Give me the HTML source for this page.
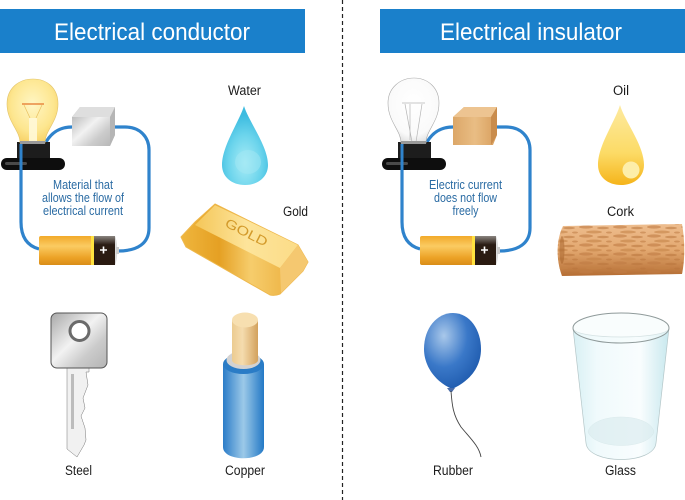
<!DOCTYPE html>
<html><head><meta charset="utf-8"><style>
html,body{margin:0;padding:0;background:#fff}
svg{display:block}
text{font-family:"Liberation Sans",sans-serif}
.l{font-size:13.5px;fill:#1c1c1c;text-anchor:middle}
.b{font-size:13px;fill:#2a6ba3;text-anchor:middle}
.h{font-size:24px;fill:#fff;text-anchor:middle}
</style></head><body>
<svg width="685" height="500" viewBox="0 0 685 500" xmlns="http://www.w3.org/2000/svg">
<defs>
<radialGradient id="gBulb" cx=".5" cy=".4" r=".6"><stop offset="0" stop-color="#fff6c4"/><stop offset=".7" stop-color="#fde68f"/><stop offset="1" stop-color="#f8d36a"/></radialGradient>
<radialGradient id="wBulb" cx=".5" cy=".4" r=".6"><stop offset="0" stop-color="#fff"/><stop offset=".8" stop-color="#fafafa"/><stop offset="1" stop-color="#e4e4e4"/></radialGradient>
<linearGradient id="gBat" x1="0" y1="0" x2="0" y2="1"><stop offset="0" stop-color="#f2aa2a"/><stop offset=".35" stop-color="#fbcb62"/><stop offset=".75" stop-color="#eca226"/><stop offset="1" stop-color="#d98d18"/></linearGradient>
<linearGradient id="gCap" x1="0" y1="0" x2="0" y2="1"><stop offset="0" stop-color="#8a8580"/><stop offset=".3" stop-color="#2a1c14"/><stop offset="1" stop-color="#2a1a10"/></linearGradient>
<linearGradient id="gSteel" x1="0" y1="0" x2="1" y2="1"><stop offset="0" stop-color="#a8a8a8"/><stop offset=".45" stop-color="#f2f2f2"/><stop offset=".7" stop-color="#cbcbcb"/><stop offset="1" stop-color="#b4b4b4"/></linearGradient>
<linearGradient id="gWood" x1="0" y1="0" x2="1" y2="0"><stop offset="0" stop-color="#dca768"/><stop offset=".5" stop-color="#e9bd84"/><stop offset="1" stop-color="#d89e5c"/></linearGradient>
<radialGradient id="gWater" cx=".5" cy=".72" r=".6"><stop offset="0" stop-color="#a8ecf6"/><stop offset=".6" stop-color="#6bd4ec"/><stop offset="1" stop-color="#3dbce0"/></radialGradient>
<linearGradient id="gOil" x1="0" y1="0" x2="0" y2="1"><stop offset="0" stop-color="#fdeaa0"/><stop offset=".6" stop-color="#fcdb66"/><stop offset="1" stop-color="#f5b41a"/></linearGradient>
<linearGradient id="gGoldTop" x1="0" y1="0" x2="1" y2="0"><stop offset="0" stop-color="#f4c658"/><stop offset=".5" stop-color="#fde49a"/><stop offset="1" stop-color="#fbdc88"/></linearGradient>
<linearGradient id="gGoldFront" x1="0" y1="0" x2="1" y2="0"><stop offset="0" stop-color="#efb63e"/><stop offset=".3" stop-color="#e5a023"/><stop offset=".55" stop-color="#f6cd6c"/><stop offset="1" stop-color="#e9a630"/></linearGradient>
<linearGradient id="gCork" x1="0" y1="0" x2="0" y2="1"><stop offset="0" stop-color="#eebd8e"/><stop offset=".5" stop-color="#e3a86f"/><stop offset="1" stop-color="#b56d33"/></linearGradient>
<linearGradient id="gWire" x1="0" y1="0" x2="1" y2="0"><stop offset="0" stop-color="#2b7cc8"/><stop offset=".5" stop-color="#9cc9e8"/><stop offset="1" stop-color="#2379c6"/></linearGradient>
<linearGradient id="gCore" x1="0" y1="0" x2="1" y2="0"><stop offset="0" stop-color="#eccb90"/><stop offset=".4" stop-color="#f5dcae"/><stop offset="1" stop-color="#d3a15c"/></linearGradient>
<radialGradient id="gBalloon" cx=".35" cy=".3" r=".75"><stop offset="0" stop-color="#a9c8ea"/><stop offset=".55" stop-color="#3a78c8"/><stop offset="1" stop-color="#1e5aad"/></radialGradient>
<linearGradient id="gGlass" x1="0" y1="0" x2="1" y2="0"><stop offset="0" stop-color="#d8f0f4"/><stop offset=".25" stop-color="#f0fafc"/><stop offset=".7" stop-color="#f9fdfe"/><stop offset="1" stop-color="#c8e8ee"/></linearGradient>
<pattern id="pCork" width="34" height="9" patternUnits="userSpaceOnUse">
<ellipse cx="8" cy="2" rx="7" ry="1.600" fill="#bf7c44" opacity=".6"/>
<ellipse cx="25" cy="3" rx="6" ry="1.300" fill="#b8743c" opacity=".55"/>
<ellipse cx="16" cy="7" rx="8" ry="1.500" fill="#c58348" opacity=".6"/>
<ellipse cx="31" cy="7.500" rx="3" ry="1" fill="#b8743c" opacity=".5"/>
</pattern>
<g id="circuit">
<path d="M21 145V222C21 238 28 246 39 249" fill="none" stroke="#2f83cc" stroke-width="3.200"/>
<path d="M46 142C52 132 60 127 72 127M113 127H125C140 127 149 137 149 150V228C149 243 138 251 118 251" fill="none" stroke="#2f83cc" stroke-width="3.200"/>
<rect x="17" y="142" width="33" height="18" fill="#1d1d1d"/>
<path d="M7 158H59C67 158 67 170 59 170H7C-1 170 -1 158 7 158Z" fill="#0e0e0e"/>
<rect x="5" y="162" width="22" height="3" rx="1.500" fill="#4a4a4a"/>
<path d="M21 144V175" stroke="#2f83cc" stroke-width="3"/>
<rect x="39" y="236" width="55" height="29" rx="2" fill="url(#gBat)"/>
<rect x="91" y="236" width="3" height="29" fill="#ffe23f"/>
<rect x="94" y="236" width="21" height="29" fill="url(#gCap)"/>
<path d="M115 236C118 242 118 259 115 265Z" fill="#dcdcdc"/>
<rect x="116" y="247" width="3" height="7" fill="#ccc"/>
<path d="M100 250H107M103.500 246.500V253.500" stroke="#fff" stroke-width="1.600"/>
</g>
</defs>
<rect width="685" height="500" fill="#fff"/>
<rect x="0" y="9" width="305" height="44" fill="#1a80cb"/>
<rect x="380" y="9" width="305" height="44" fill="#1a80cb"/>
<text class="h" x="152" y="40" textLength="196" lengthAdjust="spacingAndGlyphs">Electrical conductor</text>
<text class="h" x="531" y="40" textLength="182" lengthAdjust="spacingAndGlyphs">Electrical insulator</text>
<line x1="342.500" y1="0" x2="342.500" y2="500" stroke="#222" stroke-width="1.200" stroke-dasharray="4 3"/>

<use href="#circuit"/>
<path d="M20 143C20 130 7 122 7 104C7 88 19 79 33 79C47 79 58 88 58 104C58 122 45 130 45 143Z" fill="url(#gBulb)" stroke="#e2c46a" stroke-width=".6"/>
<path d="M29 142V118H37V142Z" fill="#fff8d8" opacity=".9"/>
<path d="M22 104H44" stroke="#e4742a" stroke-width="1.300"/>
<path d="M24 105L30 118M42 105L36 118" stroke="#e8c060" stroke-width=".7" fill="none"/>
<rect x="20" y="141" width="25" height="3" fill="#999"/>
<path d="M72 117L80 107H115V135L110 146H72Z" fill="url(#gSteel)"/>
<path d="M72 117L80 107H115L110 117Z" fill="#dedede"/>
<path d="M110 117L115 107V135L110 146Z" fill="#b5b5b5"/>
<g class="b">
<text class="b" x="83" y="189" textLength="60" lengthAdjust="spacingAndGlyphs">Material that</text>
<text class="b" x="83" y="202" textLength="82" lengthAdjust="spacingAndGlyphs">allows the flow of</text>
<text class="b" x="83" y="215" textLength="80" lengthAdjust="spacingAndGlyphs">electrical current</text>
</g>

<text class="l" x="244.500" y="95" textLength="33" lengthAdjust="spacingAndGlyphs">Water</text>
<path d="M244 106C249 122 268 146 268 165C268 177 258 185 245 185C232 185 222 177 222 165C222 146 239 122 244 106Z" fill="url(#gWater)"/>
<ellipse cx="248" cy="162" rx="13" ry="12" fill="#a4e8f4" opacity=".5"/>
<text class="l" x="295.500" y="216" textLength="25" lengthAdjust="spacingAndGlyphs">Gold</text>
<path d="M215 204L298 245L308 262L303 271L280 294Q275 296 270 295L186 247L181 237L195 222Z" fill="url(#gGoldFront)" stroke="#eeb84c" stroke-width="1" stroke-linejoin="round"/>
<path d="M215 205L298 245L280 268L195 225Z" fill="url(#gGoldTop)"/>
<path d="M280 268L298 245L308 262L303 271L281 293Z" fill="#f5c870"/>
<text x="0" y="0" transform="translate(224,226) rotate(27)" font-size="13" fill="#d39a2a" textLength="46" lengthAdjust="spacingAndGlyphs">GOLD</text>

<path d="M67 368H89V372H86L88 385L83 398L85 408L81 416L85 428L86 440L84 445L77 457L67 449Z" fill="#f1f1f1" stroke="#777" stroke-width=".5"/>
<rect x="71" y="374" width="3" height="55" fill="#bcbcbc"/>
<rect x="51" y="313" width="56" height="55" rx="6" fill="url(#gSteel)" stroke="#555" stroke-width="1"/>
<circle cx="79.500" cy="331" r="9.500" fill="#fff" stroke="#6a6a6a" stroke-width="3"/>
<text class="l" x="78.500" y="475" textLength="27" lengthAdjust="spacingAndGlyphs">Steel</text>
<path d="M223 364V447C223 462 264 462 264 447V364Z" fill="url(#gWire)"/>
<ellipse cx="243.500" cy="364" rx="20.500" ry="10" fill="#2a7cc6"/>
<ellipse cx="243.500" cy="360" rx="17" ry="9" fill="#d2d2d2"/>
<path d="M232 320V360C232 367 258 367 258 360V320Z" fill="url(#gCore)"/>
<ellipse cx="245" cy="320" rx="13" ry="7.500" fill="#f7dfb0"/>
<text class="l" x="245" y="475" textLength="40" lengthAdjust="spacingAndGlyphs">Copper</text>

<use href="#circuit" x="381"/>
<path d="M401 143C401 130 388 122 388 103C388 88 400 78 414 78C428 78 439 88 439 103C439 122 426 130 426 143Z" fill="url(#wBulb)" stroke="#aaa" stroke-width=".6"/>
<path d="M402 103H425M405 104L412 142M422 104L416 142M410 104V140" stroke="#b5b5b5" stroke-width=".7" fill="none"/>
<rect x="401" y="141" width="25" height="3" fill="#999"/>
<path d="M453 117L464 107H497V135L493 145H453Z" fill="url(#gWood)"/>
<path d="M453 117L464 107H497L491 117Z" fill="#edc491"/>
<path d="M491 117L497 107V135L491 145Z" fill="#c98c4c"/>
<text class="b" x="465.500" y="189" textLength="73" lengthAdjust="spacingAndGlyphs">Electric current</text>
<text class="b" x="465.500" y="202" textLength="63" lengthAdjust="spacingAndGlyphs">does not flow</text>
<text class="b" x="465.500" y="215" textLength="26" lengthAdjust="spacingAndGlyphs">freely</text>

<text class="l" x="621" y="95" textLength="16" lengthAdjust="spacingAndGlyphs">Oil</text>
<path d="M620 105C625 122 644 145 644 165C644 177 634 185 621 185C608 185 598 177 598 165C598 145 615 122 620 105Z" fill="url(#gOil)"/>
<circle cx="631" cy="170" r="8.500" fill="#fdeeaa"/>
<text class="l" x="620.500" y="216" textLength="27" lengthAdjust="spacingAndGlyphs">Cork</text>
<path d="M563 226L682 224C685 240 685 260 682 274L562 276C556 260 556 240 563 226Z" fill="url(#gCork)"/>
<path d="M563 226L682 224C685 240 685 260 682 274L562 276C556 260 556 240 563 226Z" fill="url(#pCork)"/>
<ellipse cx="562" cy="250" rx="2.500" ry="14" fill="#a8642c" opacity=".55"/>

<path d="M452 389C434 381 424 365 424 349C424 328 437 313 453 313C470 313 481 330 481 349C481 367 470 381 452 389Z" fill="url(#gBalloon)"/>
<path d="M447 388H455L452 392H450Z" fill="#4a6ca8"/>
<path d="M451 391C452 405 453 415 461 427C470 438 479 446 481 457" fill="none" stroke="#444" stroke-width=".9"/>
<text class="l" x="453" y="475" textLength="40" lengthAdjust="spacingAndGlyphs">Rubber</text>

<path d="M573 328L586 443C588 465 654 465 656 443L669 328C669 340 573 340 573 328Z" fill="url(#gGlass)" stroke="#b4c6c8" stroke-width=".7"/>
<path d="M588 432C592 412 650 412 654 432C648 450 595 450 588 432Z" fill="#dcedf0" opacity=".7" stroke="#cfe2e4" stroke-width=".5"/>
<ellipse cx="621" cy="328" rx="48" ry="15" fill="#f3fbfc" fill-opacity=".5" stroke="#8f9a9a" stroke-width="1"/>
<text class="l" x="620.500" y="475" textLength="31" lengthAdjust="spacingAndGlyphs">Glass</text>
</svg>
</body></html>
